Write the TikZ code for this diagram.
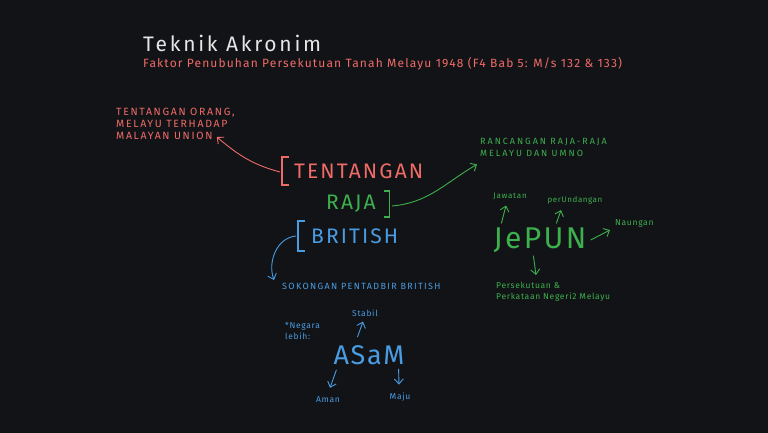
\documentclass[tikz,border=0pt]{standalone}
\usepackage{fontspec}
\setmainfont{Fira Sans}
\usepackage{xcolor}
\usepackage{tikz}
\usetikzlibrary{calc}
\usetikzlibrary{arrows.meta}
\definecolor{bgdark}{HTML}{121316}
\definecolor{skred}{HTML}{EE6B68}
\definecolor{skgreen}{HTML}{3DB04E}
\definecolor{skblue}{HTML}{4A9CE2}
\definecolor{skwhite}{HTML}{E6E6E6}
\tikzstyle{word} = [font=\fontsize{21}{21}\selectfont\addfontfeature{LetterSpace=10}, anchor=west]
\tikzstyle{big} = [font=\fontsize{30}{30}\selectfont\addfontfeature{LetterSpace=8}]
\tikzstyle{caps} = [font=\fontsize{10.5}{12}\selectfont\addfontfeature{LetterSpace=16}, align=left, anchor=west]
\tikzstyle{capsmall} = [font=\fontsize{9}{12}\selectfont\addfontfeature{LetterSpace=15}, align=left, anchor=west]
\tikzstyle{note} = [font=\fontsize{8.5}{11}\selectfont\addfontfeature{LetterSpace=8}, align=left]
\tikzstyle{brk} = [line width=1.2pt]
\tikzstyle{link} = [-{Straight Barb[length=5pt,width=9pt]}, line width=0.9pt]

\begin{document}
\begin{tikzpicture}[x=1pt,y=1pt,inner sep=0pt]
   \fill[bgdark] (0,0) rectangle (768,-433);
   \node[skwhite, font=\fontsize{21}{21}\selectfont\addfontfeature{LetterSpace=13}, anchor=west] (title) at (143,-43) {Teknik Akronim};
   \node[skred, font=\fontsize{12}{12}\selectfont\addfontfeature{LetterSpace=9.5}, anchor=west] (sub) at (143,-64) {Faktor Penubuhan Persekutuan Tanah Melayu 1948 (F4 Bab 5: M/s 132 \& 133)};

   \node[word, skred] (tent) at (294,-171) {TENTANGAN};
   \node[word, skgreen] (raja) at (326,-204) {RAJA};
   \node[word, skblue] (brit) at (311,-236) {BRITISH};
   \draw[skred,brk] ($(tent.west)+(-5,14)$) -- ++(-7,0) -- ++(0,-28) -- ++(7,0);
   \draw[skgreen,brk] ($(raja.east)+(8,13)$) -- ++(6,0) -- ++(0,-26) -- ++(-6,0);
   \draw[skblue,brk] ($(brit.west)+(-6,15)$) -- ++(-7,0) -- ++(0,-30) -- ++(7,0);
   \coordinate (tentb) at ($(tent.west)+(-14,-1)$);
   \coordinate (rajab) at ($(raja.east)+(16,-2)$);
   \coordinate (britb) at ($(brit.west)+(-15,0)$);

   \node[caps, skred] (orang) at (116,-124) {TENTANGAN ORANG,\\MELAYU TERHADAP\\MALAYAN UNION};
   \node[capsmall, skgreen, font=\fontsize{9}{12}\selectfont\addfontfeature{LetterSpace=22}] (ranc) at (480,-147) {RANCANGAN RAJA-RAJA\\MELAYU DAN UMNO};
   \node[capsmall, skblue] (sok) at (282,-286) {SOKONGAN PENTADBIR BRITISH};
   \draw[link, skred] (tentb) to[out=165, in=-40] ($(orang.east)+(-18,-13)$);
   \draw[link, skgreen] (rajab) to[out=5, in=210] ($(ranc.south west)+(-3,-8)$);
   \draw[link, skblue] (britb) to[out=185, in=110] ($(sok.west)+(-8,6)$);

   \node[big, skgreen] (jepun) at (540,-240) {JePUN};
   \node[note, skgreen, font=\fontsize{8}{11}\selectfont\addfontfeature{LetterSpace=10}] (jaw) at (510,-196) {Jawatan};
   \node[note, skgreen, font=\fontsize{8}{11}\selectfont\addfontfeature{LetterSpace=7}] (perun) at (575,-200) {perUndangan};
   \node[note, skgreen, anchor=west] (naung) at (615,-223) {Naungan};
   \node[note, skgreen, anchor=north west] (pers) at (496,-282) {Persekutuan \&\\Perkataan Negeri2 Melayu};
   \draw[link, skgreen] ($(jepun.north west)+(8,4)$) -- ($(jaw.south)+(-4,-6)$);
   \draw[link, skgreen] ($(jepun.north west)+(63,4)$) -- ($(perun.south)+(-14,-6)$);
   \draw[link, skgreen] ($(jepun.east)+(4,0)$) -- ($(naung.west)+(-5,-7)$);
   \draw[link, skgreen] ($(jepun.south west)+(40,-3)$) -- ($(pers.north west)+(40,7)$);

   \node[big, skblue, font=\fontsize{27}{27}\selectfont\addfontfeature{LetterSpace=6}] (asam) at (369,-355) {ASaM};
   \node[note, skblue] (stab) at (365,-313) {Stabil};
   \node[note, skblue, anchor=west] (neg) at (285,-331) {*Negara\\lebih:};
   \node[note, skblue] (aman) at (328,-400) {Aman};
   \node[note, skblue] (maju) at (400,-397) {Maju};
   \draw[link, skblue] ($(asam.north west)+(24,8)$) -- ($(stab.south)+(-2,-5)$);
   \draw[link, skblue] ($(asam.south west)+(3,-5)$) -- ($(aman.north)+(2,9)$);
   \draw[link, skblue] ($(asam.south east)+(-6,-4)$) -- ($(maju.north)+(-1,8)$);
\end{tikzpicture}
\end{document}
